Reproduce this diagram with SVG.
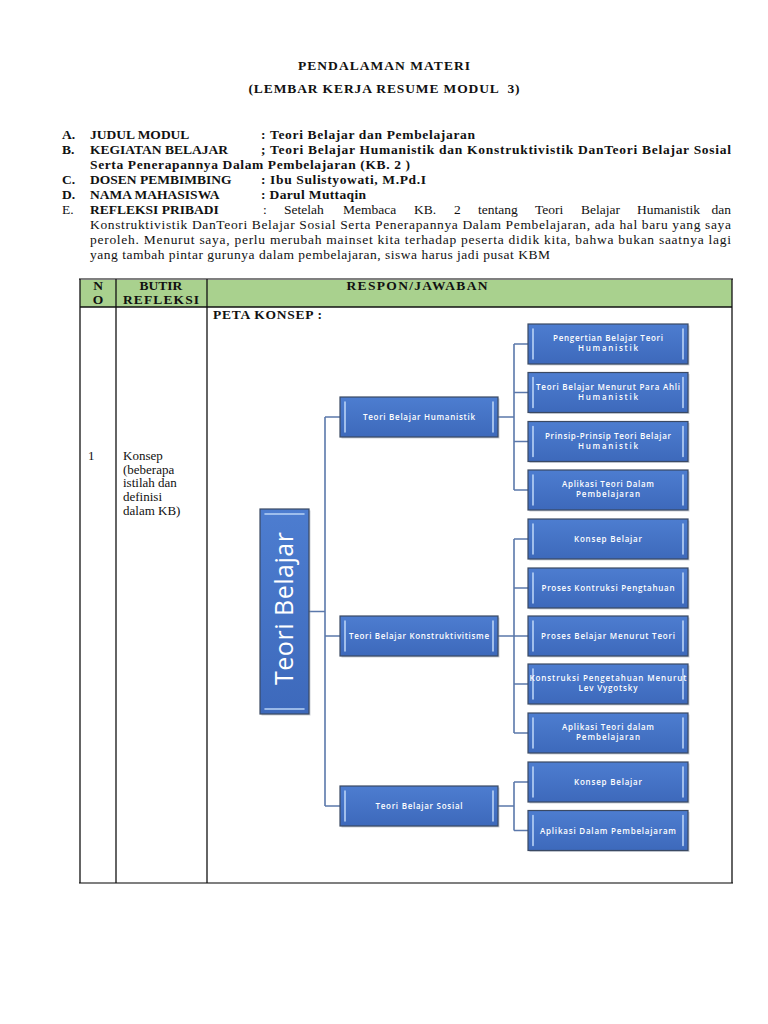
<svg xmlns="http://www.w3.org/2000/svg" width="768" height="1024" viewBox="0 0 768 1024">
<defs>
<linearGradient id="g" x1="0" y1="0" x2="0" y2="1">
<stop offset="0" stop-color="#4d7dd0"/>
<stop offset="1" stop-color="#3d69bb"/>
</linearGradient>
<style>
.t{font-family:"Liberation Serif","Times New Roman",serif;font-size:13.5px;fill:#111}
.b{font-weight:bold}
.r{font-size:13px}
.c{text-anchor:middle}
.lbl{font-family:"Open Sans","Noto Sans",sans-serif;font-size:8px;font-weight:600;fill:#fff;text-anchor:middle}
.root{font-family:"Open Sans","Noto Sans",sans-serif;font-size:25px;fill:#fff;text-anchor:middle}
.box{fill:url(#g);stroke:#3a4963;stroke-width:1.2}
.sh{fill:#8f98a6;opacity:0.45}
.bev{stroke:#b9d3f6;stroke-width:1.6;fill:none;stroke-linecap:round}
.con{stroke:#5b78ab;stroke-width:1.6;fill:none}
.tl{stroke:#111;stroke-width:1.3;fill:none}
.tg{stroke:#7f7f7f;stroke-width:2.2;fill:none}
</style>
</defs>
<rect width="768" height="1024" fill="#fff"/>

<g id="header">
<text class="t b c" x="384" y="70" font-size="14.8" textLength="172" lengthAdjust="spacing">PENDALAMAN MATERI</text>
<text class="t b c" x="384" y="93" font-size="14.8" textLength="271" lengthAdjust="spacing" xml:space="preserve">(LEMBAR KERJA RESUME MODUL  3)</text>

<text class="t b" x="62" y="139">A.</text>
<text class="t b" x="90" y="139">JUDUL MODUL</text>
<text class="t b" x="261" y="139" textLength="214" lengthAdjust="spacing">: Teori Belajar dan Pembelajaran</text>

<text class="t b" x="62" y="154">B.</text>
<text class="t b" x="90" y="154">KEGIATAN BELAJAR</text>
<text class="t b" x="261" y="154" textLength="470" lengthAdjust="spacing">; Teori Belajar Humanistik dan Konstruktivistik DanTeori Belajar Sosial</text>
<text class="t b" x="90" y="169" textLength="320" lengthAdjust="spacing">Serta Penerapannya Dalam Pembelajaran (KB. 2 )</text>

<text class="t b" x="62" y="184">C.</text>
<text class="t b" x="90" y="184">DOSEN PEMBIMBING</text>
<text class="t b" x="261" y="184" textLength="165" lengthAdjust="spacing">: Ibu Sulistyowati, M.Pd.I</text>

<text class="t b" x="62" y="199">D.</text>
<text class="t b" x="90" y="199">NAMA MAHASISWA</text>
<text class="t b" x="261" y="199" textLength="105" lengthAdjust="spacing">: Darul Muttaqin</text>

<text class="t" x="62" y="214">E.</text>
<text class="t b" x="90" y="214">REFLEKSI PRIBADI</text>
<text class="t" x="263" y="214">:</text>
<text class="t" x="284" y="214">Setelah</text>
<text class="t" x="343" y="214">Membaca</text>
<text class="t" x="414" y="214">KB.</text>
<text class="t" x="454" y="214">2</text>
<text class="t" x="478" y="214">tentang</text>
<text class="t" x="535" y="214">Teori</text>
<text class="t" x="581" y="214">Belajar</text>
<text class="t" x="637" y="214">Humanistik</text>
<text class="t" x="731" y="214" text-anchor="end">dan</text>
<text class="t" x="90" y="229" textLength="641" lengthAdjust="spacing">Konstruktivistik DanTeori Belajar Sosial Serta Penerapannya Dalam Pembelajaran, ada hal baru yang saya</text>
<text class="t" x="90" y="244" textLength="641" lengthAdjust="spacing">peroleh. Menurut saya, perlu merubah mainset kita terhadap peserta didik kita, bahwa bukan saatnya lagi</text>
<text class="t" x="90" y="259" textLength="460" lengthAdjust="spacing">yang tambah pintar gurunya dalam pembelajaran, siswa harus jadi pusat KBM</text>
</g>

<g id="table">
<rect x="80" y="279" width="652" height="28" fill="#a9d18e"/>
<line class="tg" x1="79" y1="279" x2="733" y2="279"/>
<line class="tg" x1="79" y1="883" x2="733" y2="883"/>
<line class="tl" x1="80" y1="279" x2="80" y2="883"/>
<line class="tl" x1="732" y1="279" x2="732" y2="883"/>
<line class="tl" x1="116" y1="279" x2="116" y2="883"/>
<line class="tl" x1="207" y1="279" x2="207" y2="883"/>
<line class="tl" x1="80" y1="307" x2="732" y2="307"/>
<text class="t b c" x="98" y="290" font-size="14">N</text>
<text class="t b c" x="98" y="304" font-size="14">O</text>
<text class="t b c" x="161" y="290" font-size="14">BUTIR</text>
<text class="t b c" x="161" y="304" font-size="14" textLength="76" lengthAdjust="spacing">REFLEKSI</text>
<text class="t b c" x="417" y="290" font-size="14" textLength="141" lengthAdjust="spacing">RESPON/JAWABAN</text>
<text class="t b" x="213" y="319" textLength="109" lengthAdjust="spacing">PETA KONSEP :</text>
<text class="t r" x="88" y="460">1</text>
<text class="t r" x="123" y="460">Konsep</text>
<text class="t r" x="123" y="474">(beberapa</text>
<text class="t r" x="123" y="487">istilah dan</text>
<text class="t r" x="123" y="501">definisi</text>
<text class="t r" x="123" y="515">dalam KB)</text>
</g>

<g id="connectors">
<path class="con" d="M309 611.5H325M325 417V806M325 417H340M325 636H340M325 806H340"/>
<path class="con" d="M498 417H514M514 344V490M514 344H528M514 392.5H528M514 441.5H528M514 490H528"/>
<path class="con" d="M498 636H514M514 539V733M514 539H528M514 588H528M514 636H528M514 684H528M514 733H528"/>
<path class="con" d="M498 806H514M514 782V830.5M514 782H528M514 830.5H528"/>
</g>

<g id="root">
<rect class="sh" x="261.5" y="510.5" width="49" height="205"/>
<rect class="box" x="260" y="509" width="49" height="205"/>
<path class="bev" d="M265 514H304M265 709H304"/>
<text class="root" transform="translate(293,608.5) rotate(-90)" textLength="153" lengthAdjust="spacing">Teori Belajar</text>
</g>

<g id="l1-humanistik">
<rect class="sh" x="341.5" y="398.5" width="158" height="40"/>
<rect class="box" x="340" y="397" width="158" height="40"/>
<path class="bev" d="M345 402V432M493 402V432"/>
<text class="lbl" x="419" y="420" textLength="112" lengthAdjust="spacing">Teori Belajar Humanistik</text>
</g>
<g id="l1-konstruktivitisme">
<rect class="sh" x="341.5" y="617.5" width="158" height="40"/>
<rect class="box" x="340" y="616" width="158" height="40"/>
<path class="bev" d="M345 621V651M493 621V651"/>
<text class="lbl" x="419" y="639" textLength="140" lengthAdjust="spacing">Teori Belajar Konstruktivitisme</text>
</g>
<g id="l1-sosial">
<rect class="sh" x="341.5" y="787.5" width="158" height="40"/>
<rect class="box" x="340" y="786" width="158" height="40"/>
<path class="bev" d="M345 791V821M493 791V821"/>
<text class="lbl" x="419" y="809" textLength="87" lengthAdjust="spacing">Teori Belajar Sosial</text>
</g>

<g id="h1">
<rect class="sh" x="529.5" y="325.5" width="160" height="40"/>
<rect class="box" x="528" y="324" width="160" height="40"/>
<path class="bev" d="M533 329V359M683 329V359"/>
<text class="lbl" x="608" y="341" textLength="110" lengthAdjust="spacing">Pengertian Belajar Teori</text>
<text class="lbl" x="608" y="351" textLength="60" lengthAdjust="spacing">Humanistik</text>
</g>
<g id="h2">
<rect class="sh" x="529.5" y="374" width="160" height="40"/>
<rect class="box" x="528" y="372.5" width="160" height="40"/>
<path class="bev" d="M533 377.5V407.5M683 377.5V407.5"/>
<text class="lbl" x="608" y="389.5" textLength="144" lengthAdjust="spacing">Teori Belajar Menurut Para Ahli</text>
<text class="lbl" x="608" y="399.5" textLength="60" lengthAdjust="spacing">Humanistik</text>
</g>
<g id="h3">
<rect class="sh" x="529.5" y="423" width="160" height="40"/>
<rect class="box" x="528" y="421.5" width="160" height="40"/>
<path class="bev" d="M533 426.5V456.5M683 426.5V456.5"/>
<text class="lbl" x="608" y="438.5" textLength="126" lengthAdjust="spacing">Prinsip-Prinsip Teori Belajar</text>
<text class="lbl" x="608" y="448.5" textLength="60" lengthAdjust="spacing">Humanistik</text>
</g>
<g id="h4">
<rect class="sh" x="529.5" y="471.5" width="160" height="40"/>
<rect class="box" x="528" y="470" width="160" height="40"/>
<path class="bev" d="M533 475V505M683 475V505"/>
<text class="lbl" x="608" y="487" textLength="92" lengthAdjust="spacing">Aplikasi Teori Dalam</text>
<text class="lbl" x="608" y="497" textLength="64" lengthAdjust="spacing">Pembelajaran</text>
</g>

<g id="k1">
<rect class="sh" x="529.5" y="520.5" width="160" height="40"/>
<rect class="box" x="528" y="519" width="160" height="40"/>
<path class="bev" d="M533 524V554M683 524V554"/>
<text class="lbl" x="608" y="542" textLength="68" lengthAdjust="spacing">Konsep Belajar</text>
</g>
<g id="k2">
<rect class="sh" x="529.5" y="569.5" width="160" height="40"/>
<rect class="box" x="528" y="568" width="160" height="40"/>
<path class="bev" d="M533 573V603M683 573V603"/>
<text class="lbl" x="608" y="591" textLength="133" lengthAdjust="spacing">Proses Kontruksi Pengtahuan</text>
</g>
<g id="k3">
<rect class="sh" x="529.5" y="617.5" width="160" height="40"/>
<rect class="box" x="528" y="616" width="160" height="40"/>
<path class="bev" d="M533 621V651M683 621V651"/>
<text class="lbl" x="608" y="639" textLength="134" lengthAdjust="spacing">Proses Belajar Menurut Teori</text>
</g>
<g id="k4">
<rect class="sh" x="529.5" y="665.5" width="160" height="40"/>
<rect class="box" x="528" y="664" width="160" height="40"/>
<path class="bev" d="M533 669V699M683 669V699"/>
<text class="lbl" x="608" y="681" textLength="157" lengthAdjust="spacing">Konstruksi Pengetahuan Menurut</text>
<text class="lbl" x="608" y="691" textLength="59" lengthAdjust="spacing">Lev Vygotsky</text>
</g>
<g id="k5">
<rect class="sh" x="529.5" y="714.5" width="160" height="40"/>
<rect class="box" x="528" y="713" width="160" height="40"/>
<path class="bev" d="M533 718V748M683 718V748"/>
<text class="lbl" x="608" y="730" textLength="92" lengthAdjust="spacing">Aplikasi Teori dalam</text>
<text class="lbl" x="608" y="740" textLength="64" lengthAdjust="spacing">Pembelajaran</text>
</g>

<g id="s1">
<rect class="sh" x="529.5" y="763.5" width="160" height="40"/>
<rect class="box" x="528" y="762" width="160" height="40"/>
<path class="bev" d="M533 767V797M683 767V797"/>
<text class="lbl" x="608" y="785" textLength="68" lengthAdjust="spacing">Konsep Belajar</text>
</g>
<g id="s2">
<rect class="sh" x="529.5" y="812" width="160" height="40"/>
<rect class="box" x="528" y="810.5" width="160" height="40"/>
<path class="bev" d="M533 815.5V845.5M683 815.5V845.5"/>
<text class="lbl" x="608" y="833.5" textLength="136" lengthAdjust="spacing">Aplikasi Dalam Pembelajaram</text>
</g>
</svg>
